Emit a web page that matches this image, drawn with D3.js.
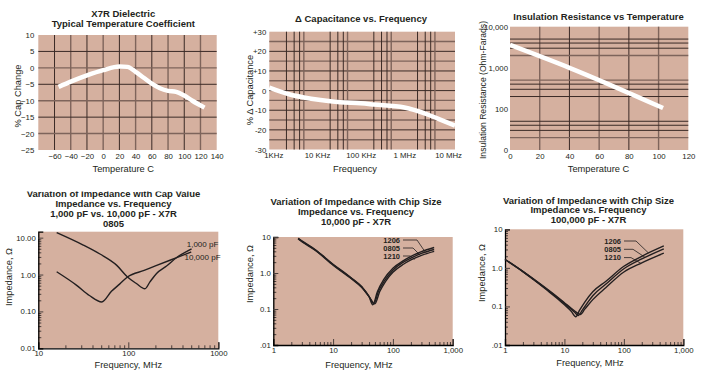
<!DOCTYPE html>
<html>
<head>
<meta charset="utf-8">
<script src="https://cdn.jsdelivr.net/npm/d3@7"></script>
<style>
  body { margin: 0; background: #fff; }
  svg text { font-family: "Liberation Sans", Arial, Helvetica, sans-serif; fill: #231f20; }
  .title { font-weight: bold; font-size: 9.5px; }
  .axis text { font-size: 7.8px; }
  .axt { font-size: 9.3px; }
  .axs { font-size: 8.6px; }
  .note { font-size: 7.5px; font-weight: bold; }
  .note2 { font-size: 8px; }
</style>
</head>
<body>
<svg id="chart" width="719" height="380"></svg>
<script>
// ---- X7R temperature coefficient
const tcTicksX = [-60, -40, -20, 0, 20, 40, 60, 80, 100, 120, 140];
const tcTicksY = [10, 5, 0, -5, -10, -15, -20, -25];
const tcTemp = [-55, -40, -20, 0, 20, 30, 40, 50, 60, 70, 80, 90, 100, 110, 125];
const tcChange = [-5.8, -4.2, -2.3, -0.7, 0.4, 0.3, -1.2, -3.0, -4.8, -6.2, -7.0, -7.3, -8.4, -10.0, -12.1];

// ---- capacitance vs frequency
const capTickVals = [1e3, 1e4, 1e5, 1e6, 1e7];
const capTickText = ["1KHz", "10 KHz", "100 KHz", "1 MHz", "10 MHz"];
const capTicksY = [30, 20, 10, 0, -10, -20, -30];
const capFreq = [810, 2400, 5000, 12000, 34000, 100000, 200000, 1e6, 3e6, 6e6, 1.44e7];
const capDelta = [1.5, -2, -3.5, -4.8, -5.9, -6.5, -7.1, -8.6, -11.7, -14.4, -17.8];

// ---- insulation resistance
const irTicksX = [0, 20, 40, 60, 80, 100, 120];
const irTickVals = [10, 100, 1000, 10000];
const irTickText = ["0", "100", "1,000", "10,000"];
const irTemp = [0, 40, 103];
const irRes = [3600, 1000, 105];

// ---- impedance vs cap value (0805)
const zcTickVals = [10, 100, 1000];
const zcTickValsY = [0.01, 0.1, 1, 10];
const zcTickTextY = ["0.01", "0.10", "1.00", "10.00"];
const f1000pF = [16, 31.6, 48.4, 74, 98, 123, 153, 174, 206, 266, 345, 505];
const z1000pF = [13.7, 6.3, 3.6, 1.8, 0.86, 0.57, 0.41, 0.63, 1.07, 1.7, 2.9, 5.0];
const f10000pF = [16, 26.7, 37, 50.7, 65, 80, 98, 150, 200, 300, 400, 500];
const z10000pF = [1.19, 0.51, 0.27, 0.18, 0.35, 0.55, 0.86, 1.29, 1.71, 2.52, 3.3, 4.1];

// ---- chip size labels / shared log ticks
const chipSizes = ["1206", "0805", "1210"];
const sizeTickVals = [1, 10, 100, 1000];
const sizeTickText = ["1", "10", "100", "1,000"];
const sizeTickValsY = [0.01, 0.1, 1, 10];
const sizeTickTextY = [".01", "0.1", "1.0", "10"];

// ---- 10,000 pF by chip size
const f10n = [
  [2.6, 3, 5, 10, 20, 30, 40, 46, 55, 70, 100, 150, 200, 300, 490],
  [2.6, 3, 5, 10, 20, 30, 40, 48, 57, 72, 100, 150, 200, 300, 490],
  [2.6, 3, 5, 10, 20, 30, 40, 50, 60, 75, 100, 150, 200, 300, 490]
];
const z10n = [
  [9.2, 7.8, 4.5, 1.75, 0.74, 0.42, 0.22, 0.13, 0.3, 0.65, 1.35, 2.2, 2.9, 3.9, 5.1],
  [9.0, 7.6, 4.4, 1.7, 0.72, 0.41, 0.22, 0.14, 0.3, 0.6, 1.2, 2.0, 2.6, 3.5, 4.5],
  [8.8, 7.4, 4.3, 1.65, 0.7, 0.4, 0.22, 0.14, 0.3, 0.58, 1.05, 1.75, 2.3, 3.1, 4.0]
];
const lead10n = [[344, 3.9], [284, 3.16], [234, 2.4]];

// ---- 100,000 pF by chip size
const f100n = [
  [1, 2, 3, 5, 8, 10, 13, 15.5, 18, 22, 30, 50, 100, 200, 470],
  [1, 2, 3, 5, 8, 10, 13, 15, 17, 20, 24, 30, 50, 100, 200, 470],
  [1, 2, 3, 5, 8, 10, 13, 16, 18.5, 22, 30, 50, 100, 200, 470]
];
const z100n = [
  [1.65, 0.8, 0.5, 0.27, 0.15, 0.11, 0.075, 0.054, 0.08, 0.13, 0.24, 0.45, 1.1, 2.0, 3.7],
  [1.65, 0.8, 0.51, 0.28, 0.16, 0.12, 0.085, 0.07, 0.058, 0.08, 0.12, 0.19, 0.38, 0.95, 1.7, 3.1],
  [1.65, 0.81, 0.52, 0.29, 0.165, 0.125, 0.09, 0.07, 0.062, 0.085, 0.15, 0.31, 0.78, 1.35, 2.4]
];
const lead100n = [[258, 2.45], [225, 1.9], [195, 1.3]];

const BG = "#d5b09f", DARK = "#3a2a26", LIGHT = "#7e645b", INK = "#231f20";
const svg = d3.select("#chart");

function text(x, y, str, cls, anchor, rot) {
  const t = svg.append("text").attr("class", cls).attr("x", x).attr("y", y)
    .attr("text-anchor", anchor || "middle").text(str);
  if (rot) t.attr("transform", "rotate(-90," + x + "," + y + ")");
  return t;
}
function titleLines(x, y0, lines, step) {
  lines.forEach((l, i) => text(x, y0 + i * step, l, "title"));
}
function plotRect(x, y) {
  svg.append("rect").attr("x", x.range()[0]).attr("y", y.range()[1])
    .attr("width", x.range()[1] - x.range()[0]).attr("height", y.range()[0] - y.range()[1])
    .attr("fill", BG);
}
function vgrid(x, y, vals, dark) {
  svg.append("g").selectAll("line").data(vals).enter().append("line")
    .attr("x1", d => x(d)).attr("x2", d => x(d))
    .attr("y1", y.range()[0]).attr("y2", y.range()[1])
    .attr("stroke", (d, i) => dark(d, i) ? DARK : LIGHT)
    .attr("stroke-width", (d, i) => dark(d, i) ? 1 : 1.4);
}
function hgrid(x, y, vals, dark) {
  svg.append("g").selectAll("line").data(vals).enter().append("line")
    .attr("y1", d => y(d)).attr("y2", d => y(d))
    .attr("x1", x.range()[0]).attr("x2", x.range()[1])
    .attr("stroke", (d, i) => dark(d, i) ? DARK : LIGHT)
    .attr("stroke-width", (d, i) => dark(d, i) ? 1 : 1.4);
}
function labelAxis(axis, tx, ty) {
  const g = svg.append("g").attr("class", "axis").attr("transform", "translate(" + tx + "," + ty + ")")
    .call(axis);
  g.select(".domain").remove();
  g.selectAll(".tick line").remove();
  return g;
}
function whiteCurve(x, y, xs, ys) {
  const line = d3.line().x(d => x(d[0])).y(d => y(d[1])).curve(d3.curveMonotoneX);
  svg.append("path").attr("d", line(d3.zip(xs, ys)))
    .attr("fill", "none").attr("stroke", "#fff").attr("stroke-width", 4.5).attr("stroke-linecap", "butt");
}
function inkCurve(x, y, xs, ys) {
  const line = d3.line().x(d => x(d[0])).y(d => y(d[1])).curve(d3.curveMonotoneX);
  svg.append("path").attr("d", line(d3.zip(xs, ys)))
    .attr("fill", "none").attr("stroke", INK).attr("stroke-width", 1.4);
}
function minors(dom) {
  const out = [];
  for (let e = Math.floor(Math.log10(dom[0])); e < Math.ceil(Math.log10(dom[1])); e++)
    for (let m = 2; m <= 9; m++) {
      const v = m * Math.pow(10, e);
      if (v > dom[0] && v < dom[1]) out.push(v);
    }
  return out;
}
// log frame with inward ticks used by the impedance charts
function logFrame(x, y, xVals, xText, yVals, yText, xMaj, yMaj) {
  plotRect(x, y);
  const x0 = x.range()[0], y0 = y.range()[0];
  const bm = svg.append("g").attr("transform", "translate(0," + y0 + ")")
    .call(d3.axisBottom(x).tickValues(minors(x.domain())).tickSize(-3).tickFormat(""));
  bm.select(".domain").remove();
  const bM = svg.append("g").attr("transform", "translate(0," + y0 + ")")
    .call(d3.axisBottom(x).tickValues(xMaj).tickSize(-6).tickFormat(""));
  bM.select(".domain").attr("stroke-width", 1.3);
  const lm = svg.append("g").attr("transform", "translate(" + x0 + ",0)")
    .call(d3.axisLeft(y).tickValues(minors(y.domain())).tickSize(-3).tickFormat(""));
  lm.select(".domain").remove();
  const lM = svg.append("g").attr("transform", "translate(" + x0 + ",0)")
    .call(d3.axisLeft(y).tickValues(yMaj).tickSize(-5).tickFormat(""));
  lM.select(".domain").attr("stroke-width", 1.3);
  svg.selectAll(".tick line").attr("stroke", "#4a3f3c");
  labelAxis(d3.axisBottom(x).tickValues(xVals).tickFormat((d, i) => xText[i]).tickSize(0).tickPadding(2.5), 0, y0);
  labelAxis(d3.axisLeft(y).tickValues(yVals).tickFormat((d, i) => yText[i]).tickSize(0).tickPadding(2.5), x0, 0);
}

// ================= Panel 1
{
  const x = d3.scaleLinear().domain([-80, 140]).range([38.3, 216.7]);
  const y = d3.scaleLinear().domain([-25, 10]).range([150, 35]);
  plotRect(x, y);
  vgrid(x, y, tcTicksX.slice(0, -1), d => ((d + 60) / 20) % 2 === 0);
  hgrid(x, y, tcTicksY.slice(1, -1), d => Math.abs(d) % 10 === 5);
  labelAxis(d3.axisBottom(x).tickValues(tcTicksX).tickSize(0).tickPadding(3), 0, 150);
  labelAxis(d3.axisLeft(y).tickValues(tcTicksY).tickSize(0).tickPadding(4), 38.3, 0);
  whiteCurve(x, y, tcTemp, tcChange);
  titleLines(123.3, 16.5, ["X7R Dielectric", "Typical Temperature Coefficient"], 10);
  text(123.3, 171.5, "Temperature C", "axt");
  text(20.5, 96, "% Cap Change", "axt", "middle", true);
}

// ================= Panel 2
{
  const x = d3.scaleLog().domain([810, 1.44e7]).range([269.3, 455]);
  const y = d3.scaleLinear().domain([-30, 30]).range([149.5, 31.7]);
  plotRect(x, y);
  hgrid(x, y, d3.range(25, -26, -5), d => d % 10 === 0);
  const vg = [];
  [1e3, 1e4, 1e5, 1e6].forEach(e => [2, 3, 4, 5].forEach(m => vg.push(m * e)));
  vgrid(x, y, vg, (d, i) => i % 4 !== 3);
  labelAxis(d3.axisBottom(x).tickValues(capTickVals).tickFormat((d, i) => capTickText[i]).tickSize(0).tickPadding(3), 0, 149.5);
  labelAxis(d3.axisLeft(y).tickValues(capTicksY).tickFormat(d => d > 0 ? "+" + d : d).tickSize(0).tickPadding(3), 269.3, 0);
  whiteCurve(x, y, capFreq, capDelta);
  text(361, 21.5, "\u0394 Capacitance vs. Frequency", "title");
  text(355, 171.5, "Frequency", "axt");
  text(253, 90, "% \u0394 Capacitance", "axt", "middle", true);
}

// ================= Panel 3
{
  const x = d3.scaleLinear().domain([0, 120]).range([510, 688.3]);
  const y = d3.scaleLog().domain([10, 10000]).range([150, 26.7]);
  plotRect(x, y);
  vgrid(x, y, irTicksX.slice(1, -1), d => d % 40 === 0);
  const hg = [];
  [10, 100, 1000].forEach(e => [2, 3, 4, 5].forEach(m => hg.push(m * e)));
  hgrid(x, y, hg, d => !(d === 20 || d === 500 || d === 2000));
  labelAxis(d3.axisBottom(x).tickValues(irTicksX).tickSize(0).tickPadding(3), 0, 150);
  labelAxis(d3.axisLeft(y).tickValues(irTickVals).tickFormat((d, i) => irTickText[i]).tickSize(0).tickPadding(2), 510, 0);
  whiteCurve(x, y, irTemp, irRes);
  text(598.5, 20, "Insulation Resistance vs Temperature", "title");
  text(598.5, 171.5, "Temperature C", "axt");
  text(486, 90, "Insulation Resistance (Ohm-Farads)", "axs", "middle", true);
}

// ================= Panel 4
{
  const x = d3.scaleLog().domain([10, 1000]).range([38.3, 218.3]);
  const y = d3.scaleLog().domain([0.01, 14.5]).range([348.3, 231.7]);
  logFrame(x, y, zcTickVals, ["10", "100", "1000"], zcTickValsY, zcTickTextY, [100, 1000], [0.1, 1, 10]);
  inkCurve(x, y, f1000pF, z1000pF);
  inkCurve(x, y, f10000pF, z10000pF);
  text(202.5, 246.5, "1,000 pF", "note2");
  text(202.5, 259.5, "10,000 pF", "note2");
  titleLines(113.5, 196.5, ["Variation of Impedance with Cap Value", "Impedance vs. Frequency",
    "1,000 pF vs. 10,000 pF - X7R", "0805"], 10);
  svg.append("rect").attr("x", 0).attr("y", 180).attr("width", 240).attr("height", 11.5).attr("fill", "#fff");
  text(128.3, 368, "Frequency, MHz", "axt");
  text(11.5, 277, "Impedance, \u03a9", "axt", "middle", true);
}

// leader lines + labels for chip size charts
function chipNotes(x, y, tx, ty0, step, ends, hlen) {
  chipSizes.forEach((s, i) => {
    const yy = ty0 + i * step;
    text(tx, yy + 2.6, s, "note", "end");
    const sx = tx + 3, mx = sx + hlen[i];
    svg.append("path")
      .attr("d", "M" + sx + "," + yy + "H" + mx + "L" + x(ends[i][0]) + "," + y(ends[i][1]))
      .attr("fill", "none").attr("stroke", INK).attr("stroke-width", 0.8);
  });
}

// ================= Panel 5
{
  const x = d3.scaleLog().domain([1, 1000]).range([273.3, 452.7]);
  const y = d3.scaleLog().domain([0.01, 10]).range([345, 237]);
  logFrame(x, y, sizeTickVals, sizeTickText, sizeTickValsY, sizeTickTextY, [10, 100, 1000], [0.1, 1, 10]);
  f10n.forEach((f, i) => inkCurve(x, y, f, z10n[i]));
  chipNotes(x, y, 400, 240, 8, lead10n, [14, 10, 7]);
  titleLines(356, 205, ["Variation of Impedance with Chip Size", "Impedance vs. Frequency", "10,000 pF - X7R"], 10.2);
  text(359, 368, "Frequency, MHz", "axt");
  text(252.5, 274, "Impedance, \u03a9", "axt", "middle", true);
}

// ================= Panel 6
{
  const x = d3.scaleLog().domain([1, 1000]).range([505, 683.3]);
  const y = d3.scaleLog().domain([0.01, 10]).range([345, 229.3]);
  logFrame(x, y, sizeTickVals, sizeTickText, sizeTickValsY, sizeTickTextY, [10, 100, 1000], [0.1, 1, 10]);
  f100n.forEach((f, i) => inkCurve(x, y, f, z100n[i]));
  chipNotes(x, y, 621, 241, 8.3, lead100n, [12, 9, 7]);
  titleLines(588.5, 203.5, ["Variation of Impedance with Chip Size", "Impedance vs. Frequency", "100,000 pF - X7R"], 9.8);
  text(590, 366, "Frequency, MHz", "axt");
  text(485, 273, "Impedance, \u03a9", "axt", "middle", true);
}
</script>
</body>
</html>
